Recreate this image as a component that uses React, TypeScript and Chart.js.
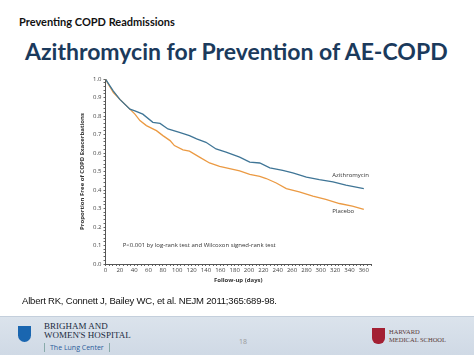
import React, { useEffect, useRef } from "react";
import { Chart, registerables } from "chart.js";
Chart.register(...registerables);

const azithroDays = [0, 5, 11, 20, 34, 41, 52, 66, 76, 87, 103, 117, 127, 140, 154, 168, 187, 201, 215, 229, 247, 261, 280, 298, 317, 335, 360];
const azithroValues = [1.0, 0.97, 0.935, 0.89, 0.837, 0.828, 0.81, 0.766, 0.76, 0.73, 0.712, 0.694, 0.676, 0.658, 0.622, 0.605, 0.578, 0.551, 0.546, 0.52, 0.506, 0.492, 0.47, 0.456, 0.444, 0.426, 0.408];
const placeboDays = [0, 5, 11, 20, 34, 41, 48, 57, 71, 80, 90, 96, 108, 117, 131, 145, 159, 173, 187, 201, 215, 224, 238, 252, 270, 289, 307, 326, 344, 360];
const placeboValues = [1.0, 0.965, 0.927, 0.89, 0.837, 0.81, 0.775, 0.748, 0.721, 0.694, 0.667, 0.64, 0.617, 0.61, 0.578, 0.546, 0.528, 0.515, 0.503, 0.485, 0.474, 0.462, 0.438, 0.408, 0.39, 0.367, 0.349, 0.327, 0.313, 0.295];
const seriesNames = ["Azithromycin", "Placebo"];
const xMajorStep = 20;

export default function App() {
  const ref = useRef<HTMLCanvasElement | null>(null);
  useEffect(() => {
    if (!ref.current) return;
    const tickFont = { family: "Open Sans, DejaVu Sans, sans-serif", size: 6 };
    const labelPlugin = {
      id: "seriesLabels",
      afterDatasetsDraw(chart: any) {
        const { ctx, scales } = chart;
        ctx.save();
        ctx.font = "6px 'Open Sans', sans-serif";
        ctx.fillStyle = "#333";
        ctx.textBaseline = "middle";
        ctx.fillText(seriesNames[0], scales.x.getPixelForValue(316), scales.y.getPixelForValue(0.477));
        ctx.fillText(seriesNames[1], scales.x.getPixelForValue(316), scales.y.getPixelForValue(0.284));
        ctx.fillText("P<0.001 by log-rank test and Wilcoxon signed-rank test", scales.x.getPixelForValue(24), scales.y.getPixelForValue(0.1));
        ctx.restore();
      },
    };
    const chart = new Chart(ref.current, {
      type: "line",
      data: {
        datasets: [
          {
            label: seriesNames[0],
            data: azithroDays.map((d, i) => ({ x: d, y: azithroValues[i] })),
            borderColor: "#3f7596",
            borderWidth: 1.3,
            pointRadius: 0,
            tension: 0,
          },
          {
            label: seriesNames[1],
            data: placeboDays.map((d, i) => ({ x: d, y: placeboValues[i] })),
            borderColor: "#eb9a43",
            borderWidth: 1.3,
            pointRadius: 0,
            tension: 0,
          },
        ],
      },
      options: {
        animation: false,
        responsive: false,
        layout: { padding: { left: 79, right: 103, top: 79, bottom: 70 } },
        plugins: { legend: { display: false }, tooltip: { enabled: false } },
        scales: {
          x: {
            type: "linear",
            min: 0,
            max: 370,
            afterFit: (s: any) => { s.height = 21; },
            afterBuildTicks: (s: any) => {
              const t = [];
              for (let v = 0; v <= 370; v += 5) t.push({ value: v });
              s.ticks = t;
            },
            ticks: {
              autoSkip: false,
              maxRotation: 0,
              padding: 1,
              font: tickFont,
              color: "#444",
              callback: (v: any) => (Number(v) % xMajorStep === 0 && Number(v) <= 360 ? String(v) : ""),
            },
            grid: { drawOnChartArea: false, tickLength: 2, color: "#666" },
            border: { color: "#555", width: 1 },
            title: { display: true, text: "Follow-up (days)", font: { ...tickFont, weight: "bold" }, color: "#333", padding: 1 },
          },
          y: {
            min: 0,
            max: 1.0,
            afterFit: (s: any) => { s.width = 26.5; },
            afterBuildTicks: (s: any) => {
              const t = [];
              for (let i = 0; i <= 50; i++) t.push({ value: i / 50 });
              s.ticks = t;
            },
            ticks: {
              autoSkip: false,
              padding: 2,
              font: tickFont,
              color: "#444",
              callback: (v: any) => {
                const n = Math.round(Number(v) * 50);
                return n % 5 === 0 ? (Number(v)).toFixed(1) : "";
              },
            },
            grid: { drawOnChartArea: false, tickLength: 2, color: "#666" },
            border: { color: "#555", width: 1 },
            title: { display: true, text: "Proportion Free of COPD Exacerbations", font: { ...tickFont, weight: "bold" }, color: "#333", padding: 0 },
          },
        },
      },
      plugins: [labelPlugin],
    });
    return () => chart.destroy();
  }, []);

  return (
    <div style={{ position: "fixed", left: 0, top: 0, width: 474, height: 355, background: "#fff", overflow: "hidden", fontFamily: "Lato, 'Open Sans', sans-serif" }}>
      <div style={{ position: "absolute", left: 19, top: 15, fontSize: 11, fontWeight: 700, color: "#111", fontFamily: "Lato, sans-serif" }}>Preventing COPD Readmissions</div>
      <div style={{ position: "absolute", left: 25, top: 37, fontSize: 23, fontWeight: 700, color: "#1b3a5c", fontFamily: "Lato, sans-serif", whiteSpace: "nowrap" }}>Azithromycin for Prevention of AE-COPD</div>
      <canvas ref={ref} width={474} height={355} style={{ position: "absolute", left: 0, top: 0 }} />
      <div style={{ position: "absolute", left: 22, top: 295, fontSize: 9.5, color: "#111", fontFamily: "'Liberation Sans', Arial, sans-serif", letterSpacing: -0.2 }}>Albert RK, Connett J, Bailey WC, et al. NEJM 2011;365:689-98.</div>
      <div style={{ position: "absolute", left: 0, top: 316, width: 474, height: 39, background: "linear-gradient(#dbe3ec, #cfd9e5)", borderTop: "1px solid #c4cfdc" }} />
      <div style={{ position: "absolute", left: 18, top: 326, width: 13, height: 16, background: "#1a66b0", borderRadius: "0 0 7px 7px" }} />
      <div style={{ position: "absolute", left: 44, top: 322, fontSize: 9, lineHeight: "9px", color: "#1a2a40", fontFamily: "'Liberation Serif', serif" }}>BRIGHAM AND<br />WOMEN'S HOSPITAL</div>
      <div style={{ position: "absolute", left: 44, top: 343, fontSize: 7, color: "#2a5c9a", fontFamily: "'Open Sans', sans-serif", borderLeft: "1px solid #8aa", borderRight: "1px solid #8aa", padding: "0 5px" }}>The Lung Center</div>
      <div style={{ position: "absolute", left: 239, top: 337, fontSize: 7, color: "#999", fontFamily: "'Open Sans', sans-serif" }}>18</div>
      <div style={{ position: "absolute", left: 372, top: 328, width: 13, height: 16, background: "#a32033", borderRadius: "0 0 6px 6px" }} />
      <div style={{ position: "absolute", left: 389, top: 328, fontSize: 6.5, lineHeight: "8px", color: "#5a3a3a", fontFamily: "'Liberation Serif', serif" }}>HARVARD<br />MEDICAL SCHOOL</div>
    </div>
  );
}
